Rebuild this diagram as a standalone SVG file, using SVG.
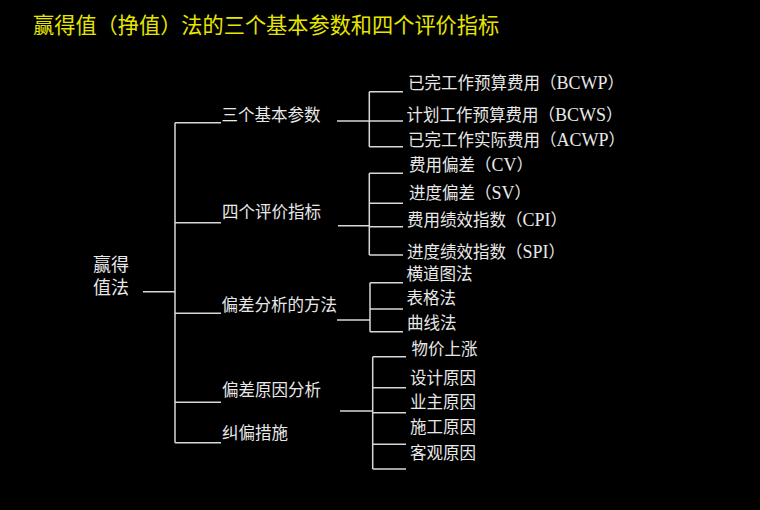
<svg xmlns="http://www.w3.org/2000/svg" width="760" height="510" viewBox="0 0 760 510">
<style>
.t{font-family:"Liberation Serif","Noto Sans CJK SC",serif;font-size:16.5px;fill:#e8e8e8}
.r{font-size:18px}
.l{font-size:18px}
.title{font-family:"Liberation Serif","Noto Sans CJK SC",serif;font-size:21.2px;fill:#e6e600}
.c{stroke:#d8d8d8;stroke-width:1.5;fill:none}
</style>
<rect width="760" height="510" fill="#000"/>
<text class="title" x="33" y="33">赢得值（挣值）法的三个基本参数和四个评价指标</text>
<g id="connectors">
<path class="c" d="M143,291.7H175M175,122.7V442.7M175,122.7H221M175,222.7H221M175,313.3H221M175,402.3H221M175,442.7H221"/>
<path class="c" d="M337,121H403M369.3,91.7V146.7M369.3,91.7H403M369.3,146.7H403"/>
<path class="c" d="M338,225.7H369.3M369.3,173.3V255M369.3,173.3H403M369.3,203.3H403M369.3,226.7H403M369.3,255H403"/>
<path class="c" d="M337,320H370M370,282.7V331.7M370,282.7H403M370,309H403M370,331.7H403"/>
<path class="c" d="M340,411H372.7M372.7,356.7V469M372.7,356.7H406M372.7,387.7H406M372.7,412.7H406M372.7,444.3H406M372.7,469H406"/>
</g>
<g id="root"><text class="t r" x="93" y="271">赢得</text><text class="t r" x="93" y="294">值法</text></g>
<g id="n1"><text class="t" x="221.5" y="121">三个基本参数</text></g>
<g id="n2"><text class="t" x="222" y="217.5">四个评价指标</text></g>
<g id="n3"><text class="t" x="221.5" y="310.5">偏差分析的方法</text></g>
<g id="n4"><text class="t" x="222" y="396">偏差原因分析</text></g>
<g id="n5"><text class="t" x="222" y="439">纠偏措施</text></g>
<g id="n1a"><text class="t" x="408" y="89">已完工作预算费用（<tspan class="l">BCWP</tspan>）</text></g>
<g id="n1b"><text class="t" x="406.5" y="121">计划工作预算费用（<tspan class="l">BCWS</tspan>）</text></g>
<g id="n1c"><text class="t" x="408" y="146">已完工作实际费用（<tspan class="l">ACWP</tspan>）</text></g>
<g id="n2a"><text class="t" x="409" y="171">费用偏差（<tspan class="l">CV</tspan>）</text></g>
<g id="n2b"><text class="t" x="409" y="199">进度偏差（<tspan class="l">SV</tspan>）</text></g>
<g id="n2c"><text class="t" x="407" y="226">费用绩效指数（<tspan class="l">CPI</tspan>）</text></g>
<g id="n2d"><text class="t" x="407" y="257.5">进度绩效指数（<tspan class="l">SPI</tspan>）</text></g>
<g id="n3a"><text class="t" x="406.5" y="280">横道图法</text></g>
<g id="n3b"><text class="t" x="406.5" y="303.5">表格法</text></g>
<g id="n3c"><text class="t" x="407" y="328.5">曲线法</text></g>
<g id="n4a"><text class="t" x="411.5" y="355">物价上涨</text></g>
<g id="n4b"><text class="t" x="410" y="383.5">设计原因</text></g>
<g id="n4c"><text class="t" x="410" y="407.5">业主原因</text></g>
<g id="n4d"><text class="t" x="410" y="433">施工原因</text></g>
<g id="n4e"><text class="t" x="410" y="458.5">客观原因</text></g>
</svg>
